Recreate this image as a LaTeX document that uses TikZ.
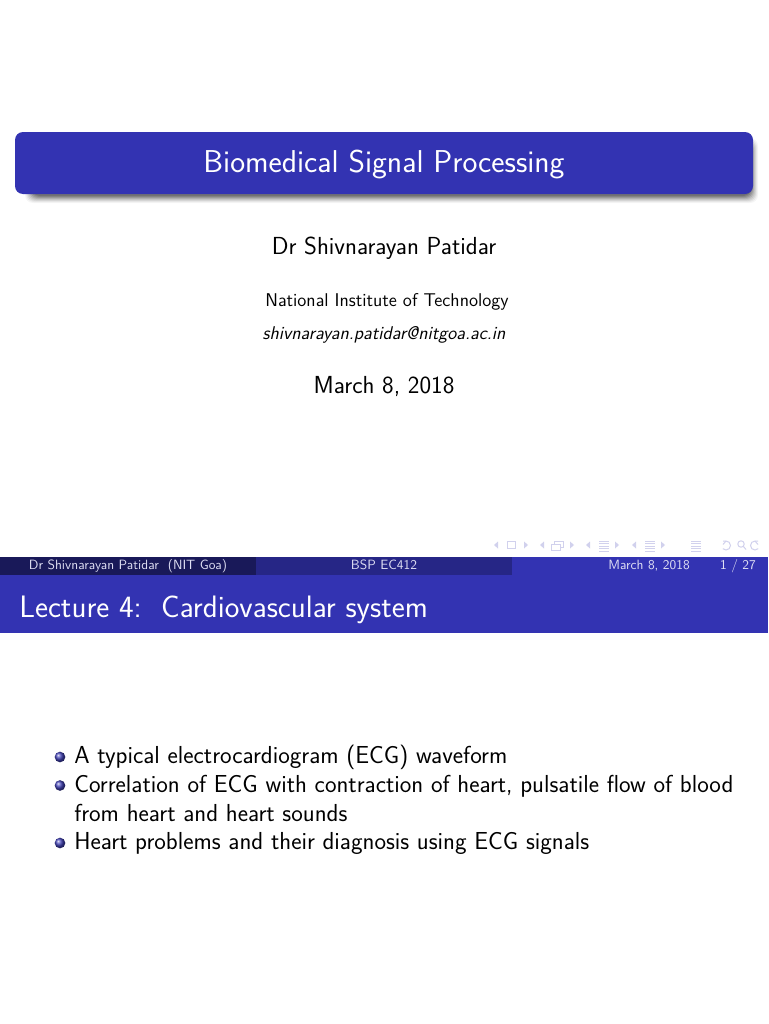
\documentclass[tikz,border=0pt]{standalone}
\usepackage{fontspec}
\usetikzlibrary{shadings,fadings,calc}
\renewcommand{\familydefault}{\sfdefault}
\definecolor{bm}{rgb}{.2,.2,.7}
\definecolor{bmd}{rgb}{.1,.1,.35}
\definecolor{bmm}{rgb}{.15,.15,.525}
\definecolor{nav}{rgb}{.82,.82,.93}
\newcommand{\fsz}[1]{\fontsize{#1}{#1}\selectfont}
\tikzset{
 x=.75pt,y=-.75pt,
 txt/.style={inner sep=0pt,anchor=base,text=black},
 ltxt/.style={inner sep=0pt,anchor=base west,text=black},
 foot/.style={inner sep=0pt,anchor=base,text=white!85!bm},
 ball/.style={circle,inner sep=0pt,minimum size=8pt,shading=ball,ball color=bm!92!white},
 navl/.style={draw=nav,line width=.75pt,fill=none},
 navf/.style={fill=nav,draw=none},
}
\newcommand{\lefttri}[2]{\fill[navf] (#1-2,#2) -- (#1+2,#2-3.5) -- (#1+2,#2+3.5) -- cycle;}
\newcommand{\righttri}[2]{\fill[navf] (#1+2,#2) -- (#1-2,#2-3.5) -- (#1-2,#2+3.5) -- cycle;}
\newcommand{\lines}[2]{\foreach \k in {-4,-1.5,1,3.5,6}{\draw[navl,line width=.6pt] (#1-5,#2+\k) -- (#1+5,#2+\k);}}
\begin{document}
\begin{tikzpicture}
\useasboundingbox (0,0) rectangle (768,1024);
\fill[white] (0,0) rectangle (768,1024);
% title box shadow
\foreach \g/\o in {5/.04,4/.05,3/.07,2/.08,1/.10,0/.12,-1/.13,-2/.15}{
 \fill[black,opacity=\o,rounded corners=6pt] (30-\g,143-\g) rectangle (753+\g,198+\g);
}
\node[fill=bm,rounded corners=6pt,minimum width=738*.75pt,minimum height=62*.75pt,inner sep=0pt,outer sep=0pt] (titlebox) at (384,163) {};
\node[inner sep=0pt,anchor=base,text=white,font=\fsz{23.7}] (title) at (384,172) {Biomedical Signal Processing};
\node[txt,font=\fsz{18.5}] (author) at (384,254.5) {Dr Shivnarayan Patidar};
\node[txt,font=\fsz{13.85}] (inst) at (387,306) {National Institute of Technology};
\node[txt,font=\fsz{13.85}\itshape] (email) at (384,339) {shivnarayan.patidar@nitgoa.ac.in};
\node[txt,font=\fsz{18.5}] (date) at (384,393.5) {March 8, 2018};
% nav symbols
\lefttri{496}{545}
\draw[navl] (507,541.5) rectangle (515,548.5);
\righttri{526}{545}
\lefttri{542}{545}
\draw[navl] (551,544) rectangle (560,550);
\draw[navl] (554,544) -- (554,541) -- (563,541) -- (563,547) -- (560,547);
\righttri{572}{545}
\lefttri{588}{545}
\lines{604}{545}
\righttri{617}{545}
\lefttri{634}{545}
\lines{650}{545}
\righttri{663}{545}
\lines{696}{545}
\draw[navl] (726,541) -- (723,544.5);
\draw[navl] (723,541) -- (726,541) arc[start angle=-90,end angle=135,radius=4.5];
\draw[navl] (755,541) -- (758,544.5);
\draw[navl] (758,541) -- (755,541) arc[start angle=-90,end angle=-315,radius=4.5];
\draw[navl] (741,544) circle[radius=3.2];
\draw[navl] (743.3,546.3) -- (746,549.5);
% footline and frame title
\fill[bmd] (0,557) rectangle (256,575);
\fill[bmm] (256,557) rectangle (512,575);
\fill[bm] (512,557) rectangle (768,575);
\fill[bm] (0,575) rectangle (768,633);
\node[foot,font=\fsz{10.05}] (fauthor) at (128,569) {Dr Shivnarayan Patidar\ \ (NIT Goa)};
\node[foot,font=\fsz{10.05}] (fmid) at (384,569) {BSP EC412};
\node[foot,font=\fsz{10.05}] (fdate) at (649,569) {March 8, 2018};
\node[foot,font=\fsz{10.05}] (fpage) at (738,569) {1 / 27};
\node[inner sep=0pt,anchor=base west,text=white,font=\fsz{23.25}] (ftitle) at (19,617) {Lecture 4:\ \ Cardiovascular system};
% bullets
\node[ball] (b1) at (60,757) {};
\node[ball] (b2) at (60,785.5) {};
\node[ball] (b3) at (60,843) {};
\node[ltxt,font=\fsz{18.44}] (t1) at (74,763.5) {A typical electrocardiogram (ECG) waveform};
\node[ltxt,font=\fsz{18.44}] (t2) at (74,792.5) {Correlation of ECG with contraction of heart, pulsatile flow of blood};
\node[ltxt,font=\fsz{18.44}] (t2b) at (74,821) {from heart and heart sounds};
\node[ltxt,font=\fsz{18.44}] (t3) at (74,849.5) {Heart problems and their diagnosis using ECG signals};
\end{tikzpicture}
\end{document}
